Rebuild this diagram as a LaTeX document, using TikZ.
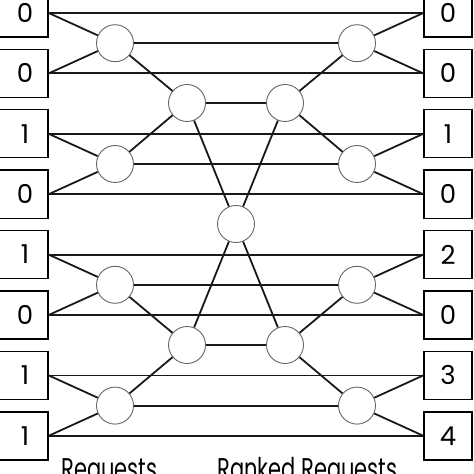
\documentclass[tikz,border=0pt]{standalone}
\usepackage{fontspec}
\setmainfont{Poppins}
\begin{document}
\begin{tikzpicture}[x=1bp,y=-1bp,
  box/.style={draw=black, line width=1.4bp, minimum width=48bp, minimum height=48bp, inner sep=0, font=\fontsize{26bp}{26bp}\selectfont},
  lbox/.style={box, minimum width=52bp},
  sw/.style={circle, draw=black!60, line width=0.9bp, minimum size=37bp, inner sep=0, fill=white},
  wire/.style={line width=1.8bp, draw=black!90},
  lab/.style={font=\fontsize{30bp}{30bp}\selectfont, inner sep=0, anchor=base}]
\useasboundingbox (0,0) rectangle (474,474);
\clip (0,0) rectangle (474,474);
% input boxes
\foreach \i/\v/\y in {0/0/13,1/0/73.4,2/1/133.8,3/0/194.2,4/1/254.6,5/0/315,6/1/375.4,7/1/435.8}{
  \node[lbox] (L\i) at (22,\y) {\hspace*{6bp}\raisebox{-3bp}{\v}};
}
% output boxes
\foreach \i/\v/\y in {0/0/13,1/0/73.4,2/1/133.8,3/0/194.2,4/2/254.6,5/0/315,6/3/375.4,7/4/435.8}{
  \node[box] (R\i) at (448,\y) {\raisebox{-4bp}{\v}};
}
% switches
\foreach \k/\y in {1/43.2,2/164,3/284.8,4/405.6}{
  \node[sw] (A\k) at (115,\y) {};
  \node[sw] (B\k) at (357,\y) {};
}
\node[sw] (C1) at (187,103) {};
\node[sw] (C2) at (187,345) {};
\node[sw] (D1) at (285,103) {};
\node[sw] (D2) at (285,345) {};
\node[sw] (E) at (236,224) {};
% wires
\begin{scope}[wire]
\foreach \i in {0,...,7}{ \draw (L\i.east) -- (R\i.west); }
\foreach \k/\a/\b in {1/0/1,2/2/3,3/4/5,4/6/7}{
  \draw (L\a.east) -- (A\k);
  \draw (L\b.east) -- (A\k);
  \draw (A\k) -- (B\k);
  \draw (B\k) -- (R\a.west);
  \draw (B\k) -- (R\b.west);
}
\draw (A1) -- (C1); \draw (A2) -- (C1);
\draw (A3) -- (C2); \draw (A4) -- (C2);
\draw (D1) -- (B1); \draw (D1) -- (B2);
\draw (D2) -- (B3); \draw (D2) -- (B4);
\draw (C1) -- (D1); \draw (C2) -- (D2);
\draw (C1) -- (E); \draw (D1) -- (E);
\draw (C2) -- (E); \draw (D2) -- (E);
\end{scope}
% labels
\node[lab] (req) at (109.5,479) {\scalebox{0.7}[1]{Requests}};
\node[lab] (rreq) at (307.5,479) {\scalebox{0.7}[1]{Ranked Requests}};
\end{tikzpicture}
\end{document}
